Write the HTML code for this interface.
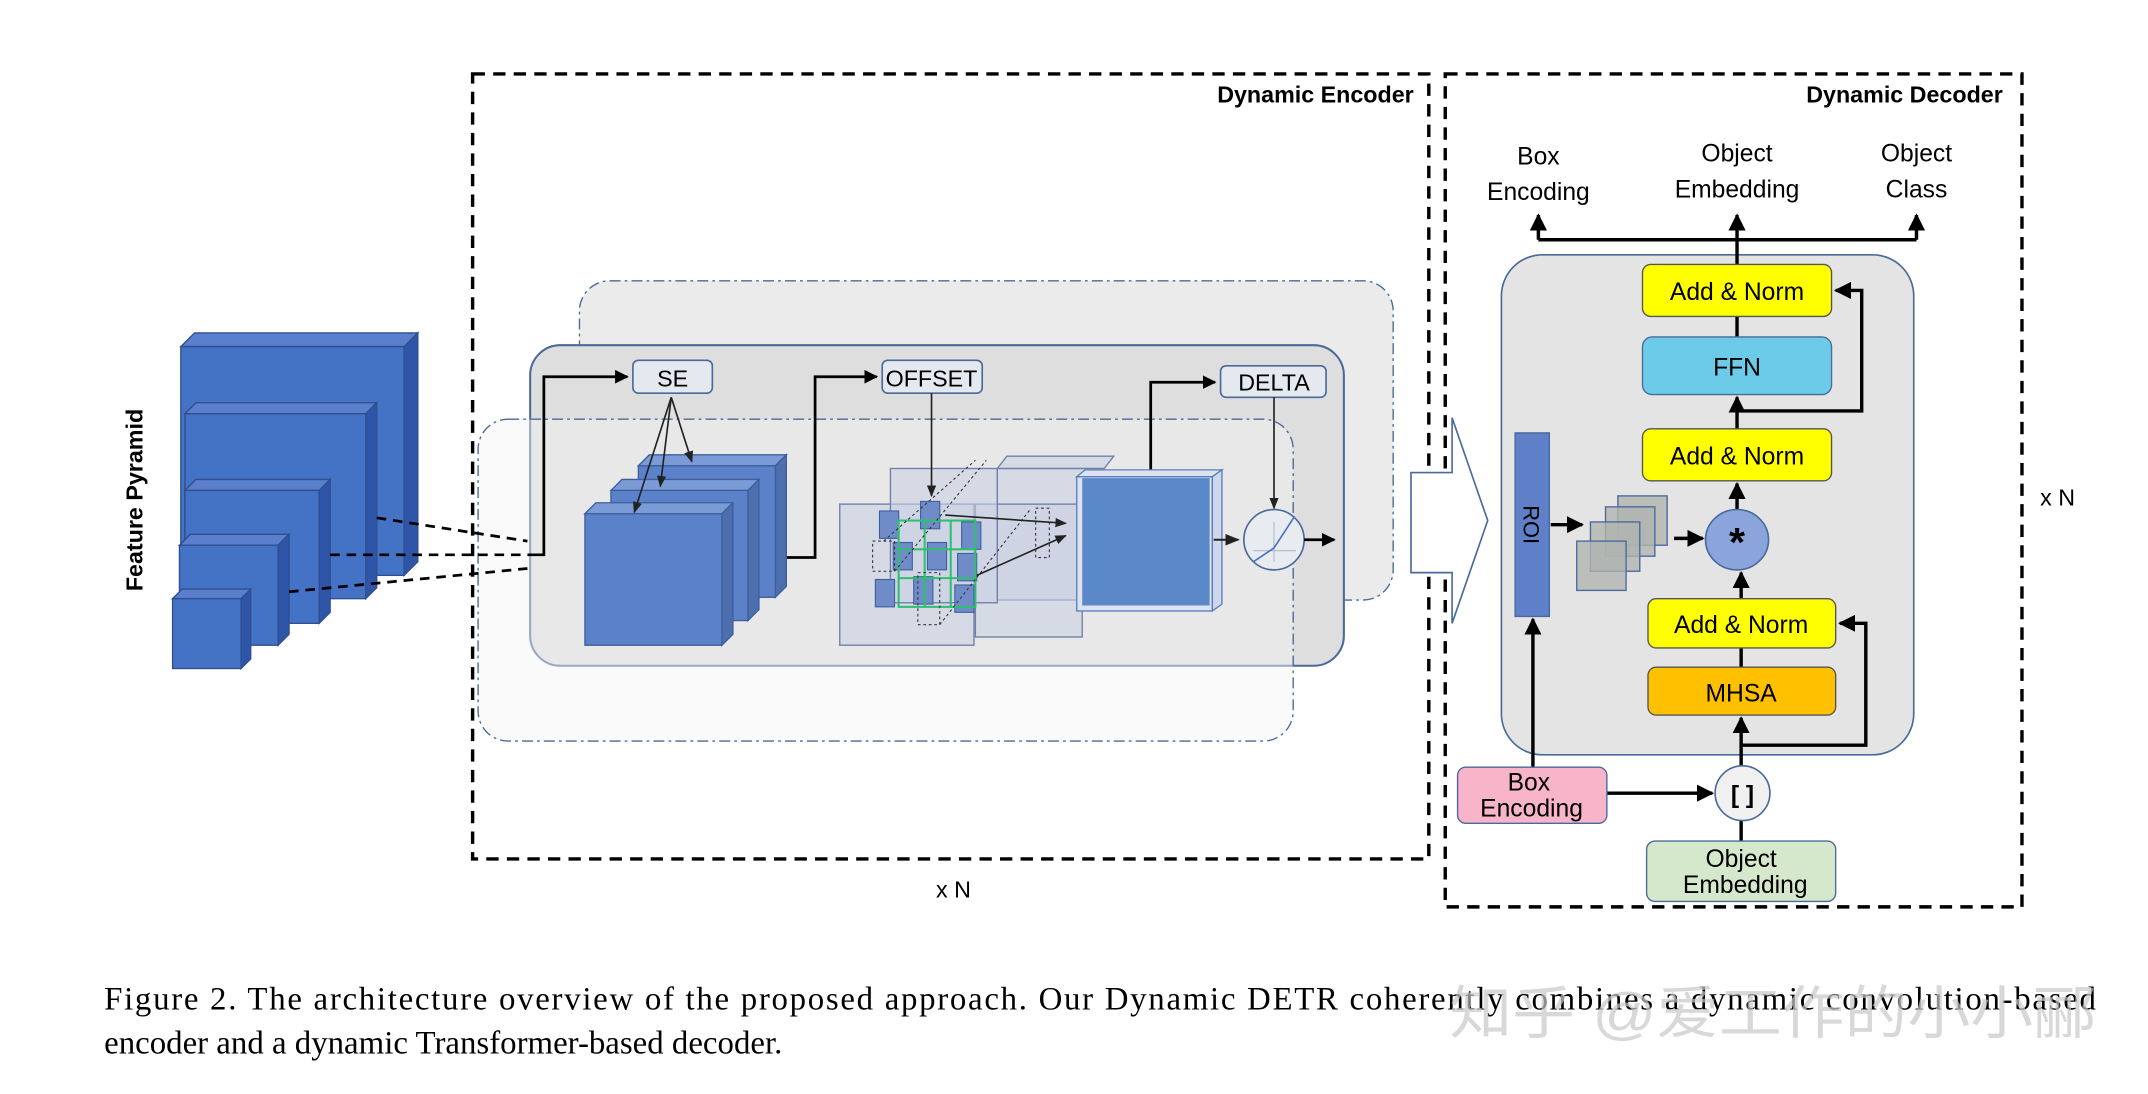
<!DOCTYPE html>
<html><head><meta charset="utf-8"><style>html,body{margin:0;padding:0;background:#fff}svg{display:block}</style></head>
<body>
<svg width="2148" height="1094" viewBox="0 0 1568 798.6" xmlns="http://www.w3.org/2000/svg" font-family="Liberation Sans, sans-serif">
<defs>
<marker id="a" viewBox="0 0 10 10" refX="9" refY="5" markerWidth="5" markerHeight="5" orient="auto"><path d="M0,0L10,5L0,10z" fill="#000"/></marker>
<marker id="s" viewBox="0 0 10 10" refX="9" refY="5" markerWidth="7" markerHeight="7" orient="auto"><path d="M0,1L10,5L0,9z" fill="#222"/></marker>
</defs>
<rect x="345" y="54" width="698" height="573" fill="none" stroke="#000" stroke-width="2.5" stroke-dasharray="9,6"/>
<text x="1032" y="75" font-size="17" font-weight="bold" text-anchor="end">Dynamic Encoder</text>
<text x="696" y="655" font-size="17" text-anchor="middle">x N</text>
<rect x="1055" y="54" width="421" height="608" fill="none" stroke="#000" stroke-width="2.5" stroke-dasharray="9,6"/>
<text x="1462" y="75" font-size="17" font-weight="bold" text-anchor="end">Dynamic Decoder</text>
<text x="1502" y="369" font-size="17" text-anchor="middle">x N</text>

<rect x="423" y="205" width="594" height="233" rx="22" fill="#ebebeb" stroke="#4a6a9a" stroke-width="1" stroke-dasharray="8,3,2,3"/>
<rect x="387" y="252" width="594" height="234" rx="22" fill="#dedede" stroke="#4a6a9a" stroke-width="1.5"/>
<rect x="349" y="306" width="595" height="235" rx="22" fill="#f3f4f6" fill-opacity="0.45" stroke="#4a6a9a" stroke-width="1" stroke-dasharray="8,3,2,3"/>

<g stroke="#2f4f8f" stroke-width="1">
<polygon points="132,253 142,243 305,243 295,253" fill="#5a7fcc"/><polygon points="295,253 305,243 305,410 295,420" fill="#2f55a8"/><rect x="132" y="253" width="163" height="167" fill="#4472c4"/>
<polygon points="135,302 143,294 275,294 267,302" fill="#5a7fcc"/><polygon points="267,302 275,294 275,429 267,437" fill="#2f55a8"/><rect x="135" y="302" width="132" height="135" fill="#4472c4"/>
<polygon points="135,358 143,350 241,350 233,358" fill="#5a7fcc"/><polygon points="233,358 241,350 241,447 233,455" fill="#2f55a8"/><rect x="135" y="358" width="98" height="97" fill="#4472c4"/>
<polygon points="131,398 139,390 211,390 203,398" fill="#5a7fcc"/><polygon points="203,398 211,390 211,463 203,471" fill="#2f55a8"/><rect x="131" y="398" width="72" height="73" fill="#4472c4"/>
<polygon points="126,437 133,430 183,430 176,437" fill="#5a7fcc"/><polygon points="176,437 183,430 183,481 176,488" fill="#2f55a8"/><rect x="126" y="437" width="50" height="51" fill="#4472c4"/>
</g>
<text transform="translate(104,365) rotate(-90)" font-size="17" font-weight="bold" text-anchor="middle">Feature Pyramid</text>
<g stroke="#000" stroke-width="2" stroke-dasharray="7,5" fill="none">
<line x1="275" y1="378" x2="385" y2="395"/><line x1="241" y1="405" x2="385" y2="405"/><line x1="211" y1="432" x2="385" y2="415"/>
</g>

<g fill="#e4e8ef" stroke="#4a6a9a" stroke-width="1.2">
<rect x="462" y="263" width="58" height="24" rx="4"/><rect x="644" y="263" width="73" height="24" rx="4"/><rect x="891" y="267" width="77" height="23" rx="4"/>
</g>
<g font-size="17" text-anchor="middle"><text x="491" y="282">SE</text><text x="680" y="282">OFFSET</text><text x="930" y="285">DELTA</text></g>
<g stroke="#000" stroke-width="2" fill="none">
<polyline points="385,405 397,405 397,275 458,275" marker-end="url(#a)"/>
<polyline points="545,407 595,407 595,275 640,275" marker-end="url(#a)"/>
<polyline points="840,347 840,279 887,279" marker-end="url(#a)"/>
</g>
<g stroke="#3e5f9f" stroke-width="1">
<polygon points="466,340 474,332 574,332 566,340" fill="#7b9bd6"/><polygon points="566,340 574,332 574,428 566,436" fill="#4d6fae"/><rect x="466" y="340" width="100" height="96" fill="#5b82c8"/>
<polygon points="446,358 454,350 554,350 546,358" fill="#7b9bd6"/><polygon points="546,358 554,350 554,445 546,453" fill="#4d6fae"/><rect x="446" y="358" width="100" height="95" fill="#5b82c8"/>
<polygon points="427,375 435,367 535,367 527,375" fill="#7b9bd6"/><polygon points="527,375 535,367 535,463 527,471" fill="#4d6fae"/><rect x="427" y="375" width="100" height="96" fill="#5b82c8"/>
</g>
<g stroke="#222" stroke-width="1.2" fill="none">
<line x1="490" y1="290" x2="463" y2="374" marker-end="url(#s)"/><line x1="490" y1="290" x2="482" y2="355" marker-end="url(#s)"/><line x1="490" y1="290" x2="505" y2="337" marker-end="url(#s)"/>
</g>
<g stroke="#7080a8" stroke-width="1" fill="#c9d1e3" fill-opacity="0.6">
<polygon points="728,342 735,333 813,333 806,342"/><rect x="728" y="342" width="78" height="96"/>
<rect x="712" y="368" width="78" height="97"/>
<rect x="613" y="368" width="98" height="103"/>
<rect x="650" y="342" width="78" height="98"/>
</g>
<g fill="#6f8cc8" stroke="#3e5f9f" stroke-width="0.8">
<rect x="642" y="373" width="14" height="20"/><rect x="672" y="366" width="14" height="20"/><rect x="652" y="396" width="14" height="20"/><rect x="677" y="396" width="14" height="20"/><rect x="699" y="404" width="14" height="20"/><rect x="639" y="423" width="14" height="20"/><rect x="667" y="421" width="14" height="20"/><rect x="697" y="427" width="14" height="20"/><rect x="702" y="381" width="14" height="20"/>
</g>
<g stroke="#2fbf6f" stroke-width="1.5" fill="none"><rect x="656" y="380" width="56" height="63"/><line x1="656" y1="401" x2="712" y2="401"/><line x1="656" y1="422" x2="712" y2="422"/><line x1="675" y1="380" x2="675" y2="443"/><line x1="694" y1="380" x2="694" y2="443"/></g>
<g stroke="#333" stroke-width="0.8" stroke-dasharray="2,2" fill="none"><rect x="670" y="418" width="16" height="38"/><rect x="637" y="395" width="16" height="22"/><line x1="653" y1="417" x2="720" y2="336"/><line x1="645" y1="395" x2="712" y2="336"/><line x1="686" y1="456" x2="752" y2="372"/><rect x="756" y="371" width="10" height="36"/></g>
<line x1="680" y1="287" x2="680" y2="362" stroke="#222" stroke-width="1.2" marker-end="url(#s)"/>
<line x1="690" y1="376" x2="778" y2="382" stroke="#222" stroke-width="1.2" marker-end="url(#s)"/>
<line x1="713" y1="420" x2="778" y2="391" stroke="#222" stroke-width="1.2" marker-end="url(#s)"/>
<rect x="786" y="348" width="99" height="98" fill="#dde3ee" stroke="#5b7fbf" stroke-width="1"/>
<polygon points="786,348 792,343 892,343 885,348" fill="#dde3ee" stroke="#5b7fbf"/>
<polygon points="885,348 892,343 892,441 885,446" fill="#cfd8ea" stroke="#5b7fbf"/>
<rect x="790" y="349" width="93" height="93" fill="#5b88c8"/>
<line x1="886" y1="394" x2="904" y2="394" stroke="#222" stroke-width="1.5" marker-end="url(#s)"/>
<circle cx="930" cy="394" r="22" fill="#e8ebf0" stroke="#4a6a9a" stroke-width="1.2"/>
<line x1="915" y1="402" x2="946" y2="402" stroke="#b0b8c8" stroke-width="0.8"/><line x1="930" y1="381" x2="930" y2="410" stroke="#b0b8c8" stroke-width="0.8"/>
<polyline points="915,410 930,400 945,377" fill="none" stroke="#4a72c0" stroke-width="1.2"/>
<line x1="930" y1="290" x2="930" y2="371" stroke="#222" stroke-width="1.2" marker-end="url(#s)"/>
<line x1="952" y1="394" x2="974" y2="394" stroke="#000" stroke-width="2" marker-end="url(#a)"/>

<polygon points="1030,345 1060,345 1060,305 1086,380 1060,455 1060,418 1030,418" fill="#fff" stroke="#4a6a9a" stroke-width="1.2"/>

<rect x="1096" y="186" width="301" height="365" rx="30" fill="#e4e4e4" stroke="#4a6a9a" stroke-width="1.2"/>
<g font-size="18" text-anchor="middle">
<text x="1123" y="120">Box</text><text x="1123" y="146">Encoding</text>
<text x="1268" y="118">Object</text><text x="1268" y="144">Embedding</text>
<text x="1399" y="118">Object</text><text x="1399" y="144">Class</text>
</g>
<g stroke="#000" stroke-width="2.5" fill="none">
<polyline points="1123,175 1399,175"/><line x1="1123" y1="175" x2="1123" y2="157" marker-end="url(#a)"/><line x1="1399" y1="175" x2="1399" y2="157" marker-end="url(#a)"/><line x1="1268" y1="193" x2="1268" y2="157" marker-end="url(#a)"/>
<line x1="1268" y1="231" x2="1268" y2="246"/>
<line x1="1268" y1="313" x2="1268" y2="290" marker-end="url(#a)"/>
<polyline points="1268,300 1359,300 1359,212 1340,212" marker-end="url(#a)"/>
<line x1="1268" y1="372" x2="1268" y2="353" marker-end="url(#a)"/>
<line x1="1271" y1="437" x2="1271" y2="418" marker-end="url(#a)"/>
<line x1="1271" y1="473" x2="1271" y2="487"/>
<line x1="1271" y1="559" x2="1271" y2="524" marker-end="url(#a)"/>
<polyline points="1271,544 1362,544 1362,455 1343,455" marker-end="url(#a)"/>
<line x1="1119" y1="560" x2="1119" y2="452" marker-end="url(#a)"/>
<line x1="1173" y1="579" x2="1250" y2="579" marker-end="url(#a)"/>
<line x1="1271" y1="614" x2="1271" y2="599"/>
<line x1="1132" y1="383" x2="1155" y2="383" marker-end="url(#a)"/>
<line x1="1222" y1="393" x2="1243" y2="393" marker-end="url(#a)"/>
</g>
<g stroke="#555" stroke-width="1">
<rect x="1199" y="193" width="138" height="38" rx="6" fill="#ffff00"/>
<rect x="1199" y="246" width="138" height="42" rx="7" fill="#6ccbe8" stroke="#4a6a9a"/>
<rect x="1199" y="313" width="138" height="38" rx="6" fill="#ffff00"/>
<rect x="1203" y="437" width="137" height="36" rx="6" fill="#ffff00"/>
<rect x="1203" y="487" width="137" height="35" rx="6" fill="#ffc000"/>
</g>
<rect x="1106" y="316" width="25" height="134" fill="#5f7fc8" stroke="#4a6a9a"/>
<text transform="translate(1112,383) rotate(90)" font-size="16" text-anchor="middle">ROI</text>
<g stroke="#4a6a9a" stroke-width="1" fill="#b0b4b0" fill-opacity="0.8">
<rect x="1181" y="362" width="36" height="36"/><rect x="1172" y="370" width="36" height="36"/><rect x="1161" y="381" width="36" height="36"/><rect x="1151" y="395" width="36" height="36"/>
</g>
<ellipse cx="1268" cy="394" rx="23" ry="22" fill="#8ba4dc" stroke="#4a6a9a" stroke-width="1.2"/>
<text x="1268" y="406" font-size="30" font-weight="bold" text-anchor="middle">*</text>
<circle cx="1272" cy="579" r="20" fill="#f0f0f0" stroke="#4a6a9a" stroke-width="1.2"/>
<text x="1272" y="586" font-size="18" font-weight="bold" text-anchor="middle">[ ]</text>
<rect x="1064" y="560" width="109" height="41" rx="6" fill="#f8b4c8" stroke="#4a6a9a"/>
<rect x="1202" y="614" width="138" height="44" rx="6" fill="#d6e8cc" stroke="#4a6a9a"/>
<g font-size="18" text-anchor="middle">
<text x="1268" y="219">Add &amp; Norm</text><text x="1268" y="274">FFN</text><text x="1268" y="339">Add &amp; Norm</text><text x="1271" y="462">Add &amp; Norm</text><text x="1271" y="512">MHSA</text>
<text x="1116" y="577">Box</text><text x="1118" y="596">Encoding</text>
<text x="1271" y="633">Object</text><text x="1274" y="652">Embedding</text>
</g>
<g font-family="Liberation Serif, serif" font-size="24">
<text x="76" y="737" textLength="1454" lengthAdjust="spacing">Figure 2. The architecture overview of the proposed approach.  Our Dynamic DETR coherently combines a dynamic convolution-based</text>
<text x="76" y="769">encoder and a dynamic Transformer-based decoder.</text>
</g>
<text x="1058" y="754" font-size="42" fill="#c8c8c8" fill-opacity="0.7" font-family="Liberation Sans, Noto Sans CJK SC, sans-serif" textLength="472" lengthAdjust="spacingAndGlyphs">知乎 @爱工作的小小郦</text>
</svg>
</body></html>
